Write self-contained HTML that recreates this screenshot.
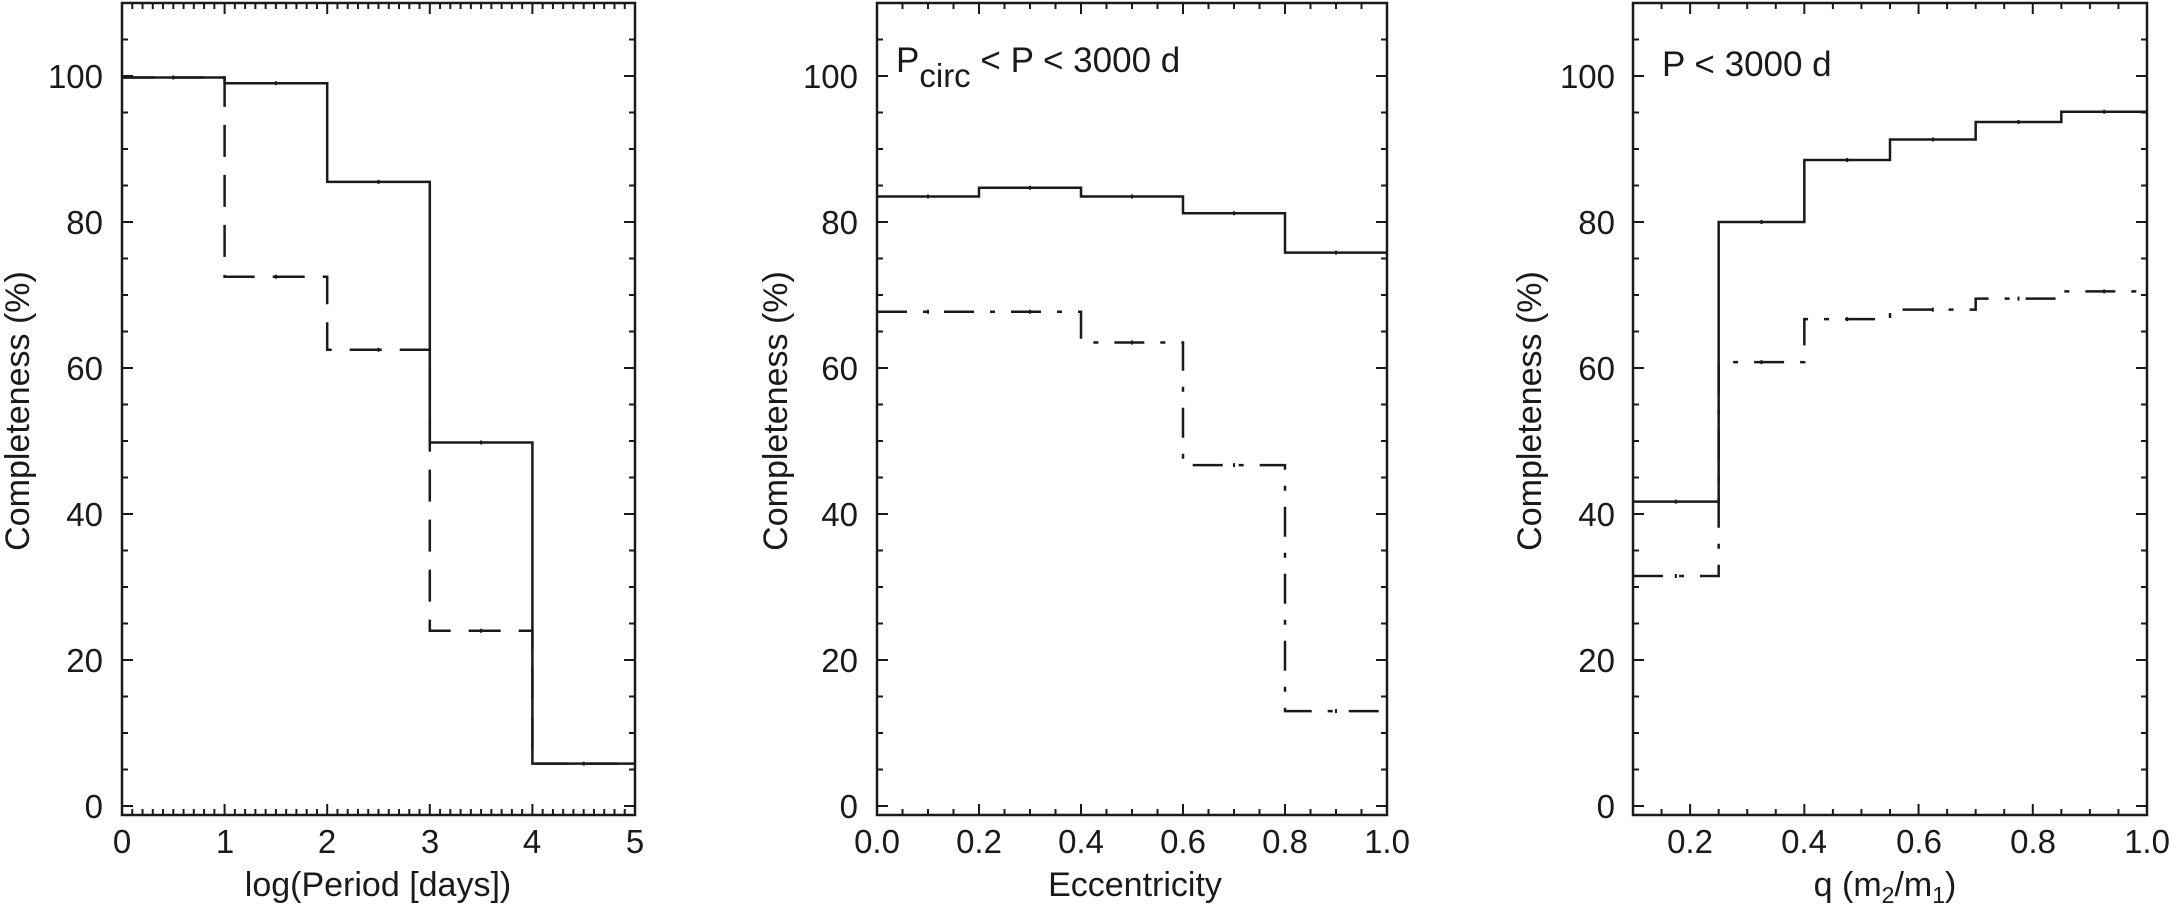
<!DOCTYPE html>
<html><head><meta charset="utf-8"><style>
html,body{margin:0;padding:0;background:#fff;width:2170px;height:907px;overflow:hidden}
svg text{font-family:"Liberation Sans",sans-serif;fill:#1a1a1a}
</style></head><body>
<svg id="s" width="2170" height="907" xmlns="http://www.w3.org/2000/svg">
<g font-size="33">
<!-- panel 1 tick labels -->
<g text-anchor="end"><text x="103" y="818">0</text><text x="103" y="672">20</text><text x="103" y="526">40</text><text x="103" y="380">60</text><text x="103" y="234">80</text><text x="103" y="88">100</text></g>
<g text-anchor="middle"><text x="122" y="853">0</text><text x="225" y="853">1</text><text x="327" y="853">2</text><text x="430" y="853">3</text><text x="532" y="853">4</text><text x="635" y="853">5</text></g>
<text x="378" y="896" text-anchor="middle" font-size="34">log(Period [days])</text>
<text transform="translate(29,411) rotate(-90)" text-anchor="middle" font-size="34">Completeness (%)</text>
<!-- panel 2 -->
<g text-anchor="end"><text x="858" y="818">0</text><text x="858" y="672">20</text><text x="858" y="526">40</text><text x="858" y="380">60</text><text x="858" y="234">80</text><text x="858" y="88">100</text></g>
<g text-anchor="middle"><text x="877" y="853">0.0</text><text x="979" y="853">0.2</text><text x="1081" y="853">0.4</text><text x="1183" y="853">0.6</text><text x="1285" y="853">0.8</text><text x="1387" y="853">1.0</text></g>
<text x="1135" y="896" text-anchor="middle" font-size="34">Eccentricity</text>
<text transform="translate(787,411) rotate(-90)" text-anchor="middle" font-size="34">Completeness (%)</text>
<text x="896" y="72" font-size="35">P<tspan font-size="33" dy="15">circ</tspan><tspan dy="-15"> &lt; P &lt; 3000 d</tspan></text>
<!-- panel 3 -->
<g text-anchor="end"><text x="1615" y="818">0</text><text x="1615" y="672">20</text><text x="1615" y="526">40</text><text x="1615" y="380">60</text><text x="1615" y="234">80</text><text x="1615" y="88">100</text></g>
<g text-anchor="middle"><text x="1690" y="853">0.2</text><text x="1804" y="853">0.4</text><text x="1919" y="853">0.6</text><text x="2033" y="853">0.8</text><text x="2147" y="853">1.0</text></g>
<text x="1885" y="896" text-anchor="middle" font-size="34">q (m<tspan font-size="23" dy="7">2</tspan><tspan dy="-7">/m</tspan><tspan font-size="23" dy="7">1</tspan><tspan dy="-7">)</tspan></text>
<text transform="translate(1541,411) rotate(-90)" text-anchor="middle" font-size="34">Completeness (%)</text>
<text x="1662" y="76" font-size="35">P &lt; 3000 d</text>
</g>
<g id="g" fill="none" stroke="#1a1a1a"></g>
</svg>
<script>
const g=document.getElementById('g');const NS='http://www.w3.org/2000/svg';
function el(n,a){const e=document.createElementNS(NS,n);for(const k in a)e.setAttribute(k,a[k]);g.appendChild(e);}
const Y=v=>806-v*7.3, T=3, B=815;
function panel(L,R,x0,x1,maj,mnr,edges,s,d,dash){
 const X=v=>L+(v-x0)/(x1-x0)*(R-L);
 el('rect',{x:L,y:T,width:R-L,height:B-T,'stroke-width':2.5});
 let p='';
 for(let v=0;v<=110.01;v+=5){const y=Y(v);const l=(v%20==0)?11:6;p+=`M${L} ${y}h${l}M${R} ${y}h${-l}`;}
 const n=Math.round((x1-x0)/mnr);
 for(let i=0;i<=n;i++){const v=x0+i*mnr;const x=X(v);const m=Math.abs(v/maj-Math.round(v/maj))<1e-6;const l=m?11:6;p+=`M${x} ${B}v${-l}M${x} ${T}v${l}`;}
 el('path',{d:p,'stroke-width':2});
 function step(vals){let q=`M${X(edges[0])} ${Y(vals[0])}`;for(let i=0;i<vals.length;i++){q+=`H${X(edges[i+1])}`;if(i<vals.length-1)q+=`V${Y(vals[i+1])}`;}return q;}
 el('path',{d:step(d),'stroke-width':2.5,'stroke-dasharray':dash});
 el('path',{d:step(s),'stroke-width':2.5});
 let e='';for(let i=0;i<s.length;i++){const c=X((edges[i]+edges[i+1])/2);e+=`M${c} ${Y(s[i])-2}v4M${c} ${Y(d[i])-2}v4`;}
 el('path',{d:e,'stroke-width':2});
}
panel(122,635,0,5,1,0.1,[0,1,2,3,4,5],[99.8,99,85.5,49.8,5.8],[99.8,72.5,62.5,24,5.8],'32 18');
panel(877,1387,0,1,0.2,0.05,[0,.2,.4,.6,.8,1],[83.5,84.7,83.5,81.2,75.8],[67.7,67.7,63.5,46.7,13],'30 16 5 16');
panel(1633,2147,0.1,1.0,0.2,0.05,[.1,.25,.4,.55,.7,.85,1],[41.7,80,88.5,91.3,93.7,95.1],[31.5,60.8,66.7,68,69.5,70.5],'30 16 5 16');
</script>
</body></html>
